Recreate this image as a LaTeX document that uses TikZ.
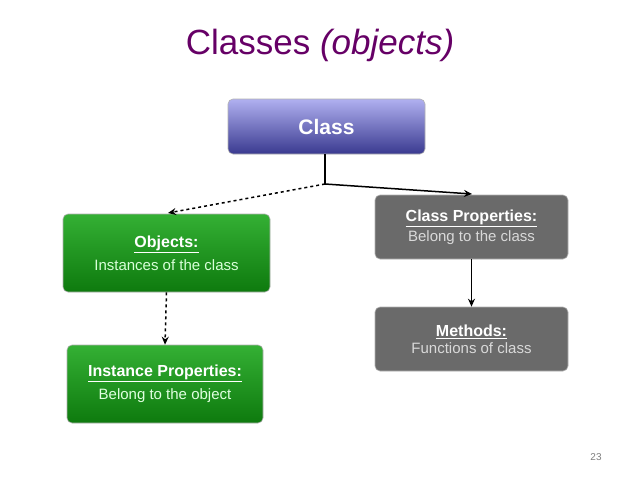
\documentclass[tikz,border=0pt]{standalone}
\usepackage{fontspec}
\setmainfont{Liberation Sans}
\usetikzlibrary{arrows.meta}
\definecolor{ttl}{HTML}{660066}
\definecolor{ptop}{HTML}{B0B0F0}
\definecolor{pbot}{HTML}{3A3A90}
\definecolor{gtop}{HTML}{34B034}
\definecolor{gbot}{HTML}{0E7A0E}
\definecolor{gry}{HTML}{6A6A6A}
\tikzset{
  box/.style={rounded corners=5pt, draw=white!70!black, line width=0.6pt, inner sep=0pt, align=center, text=white},
  purp/.style={box, top color=ptop, bottom color=pbot},
  grn/.style={box, top color=gtop, bottom color=gbot},
  gra/.style={box, fill=gry},
  conn/.style={line width=1.5pt, -{Stealth[length=8pt,width=7pt]}}
}
\newcommand{\hdr}[1]{\textbf{\underline{#1}}}
\begin{document}
\begin{tikzpicture}[x=1pt,y=-1pt]
\useasboundingbox (0,0) rectangle (638,479);
\fill[white] (0,0) rectangle (638,479);
\node (title) at (320,45) {\fontsize{35}{40}\selectfont\color{ttl}Classes \textit{(objects)}};
\node[purp, minimum width=197pt, minimum height=55pt] (class) at (326.5,126.5) {\fontsize{21}{24}\selectfont\bfseries Class};
\node[grn, minimum width=207pt, minimum height=78pt] (obj) at (166.5,253) {\fontsize{16}{19}\selectfont\hdr{Objects:}\\[6pt]\fontsize{15}{18}\selectfont\color{white!85!green}Instances of the class};
\node[grn, minimum width=196pt, minimum height=78pt] (inst) at (165,384) {\fontsize{16}{19}\selectfont\hdr{Instance Properties:}\\[6pt]\fontsize{15}{18}\selectfont\color{white!88!green}Belong to the object};
\node[gra, minimum width=193pt, minimum height=64pt] (cp) at (471.5,227) {\fontsize{16}{19}\selectfont\hdr{Class Properties:}\\[3pt]\fontsize{15}{18}\selectfont\color{white!70!gray}Belong to the class};
\node[gra, minimum width=193pt, minimum height=64pt] (meth) at (471.5,339) {\fontsize{16}{19}\selectfont\hdr{Methods:}\\[3pt]\fontsize{15}{18}\selectfont\color{white!70!gray}Functions of class};
\node[text=gray] (pg) at (596,457) {\fontsize{10}{12}\selectfont 23};
\coordinate (j) at (325,184);
\draw[line width=1.5pt] (class.south -| j) -- (j);
\draw[conn, dashed] (j) -- (168,213);
\draw[conn] (j) -- (472,194);
\draw[conn, dashed] (obj.south) -- (inst.north);
\draw[conn] (cp.south) -- (meth.north);
\end{tikzpicture}
\end{document}
